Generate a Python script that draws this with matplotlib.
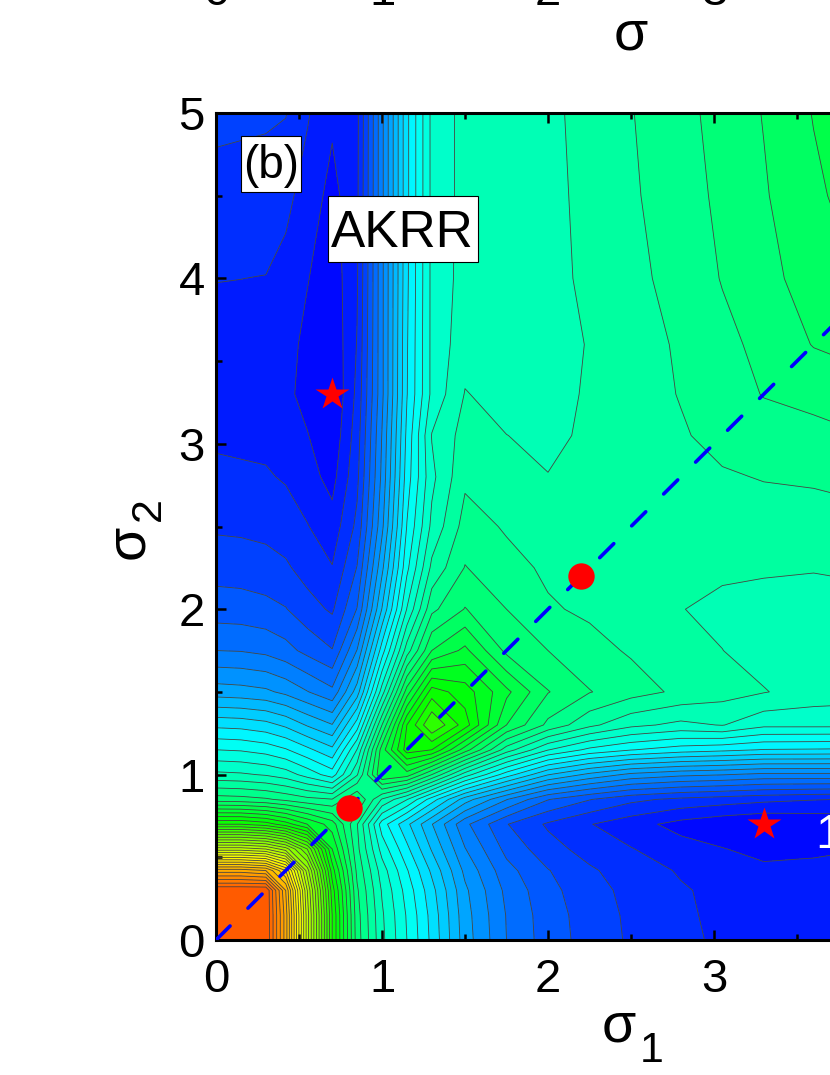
import numpy as np
import matplotlib
matplotlib.use('Agg')
import matplotlib.pyplot as plt
from matplotlib.colors import LinearSegmentedColormap, Normalize
from matplotlib.patches import Rectangle
from matplotlib.ticker import MultipleLocator

plt.rcParams['font.family'] = ['Liberation Sans', 'DejaVu Sans']

# grid of kernel widths (same for sigma1 and sigma2)
sig = [0, 0.15, 0.3, 0.42, 0.55, 0.7, 0.85, 1.0, 1.15, 1.3, 1.5, 1.75,
       2.0, 2.25, 2.5, 2.8, 3.05, 3.3, 3.6, 4.0, 4.5, 5.0]

# values: row k is sigma2 = sig[k], entries for sigma1 = sig[0..k]
# (map is symmetric under sigma1 <-> sigma2)
err_rows = [
    [1.0],
    [1.0, 1.0],
    [1.0, 1.0, 1.0],
    [0.89, 0.89, 0.88, 0.82],
    [0.71, 0.71, 0.70, 0.67, 0.60],
    [0.52, 0.52, 0.51, 0.49, 0.46, 0.43],
    [0.39, 0.388, 0.383, 0.375, 0.366, 0.361, 0.401],
    [0.325, 0.323, 0.318, 0.31, 0.292, 0.27, 0.338, 0.44],
    [0.28, 0.278, 0.272, 0.262, 0.245, 0.225, 0.301, 0.43, 0.51],
    [0.235, 0.233, 0.227, 0.216, 0.198, 0.181, 0.25, 0.38, 0.50, 0.56],
    [0.17, 0.168, 0.164, 0.155, 0.141, 0.125, 0.19, 0.31, 0.43, 0.51, 0.49],
    [0.12, 0.119, 0.115, 0.107, 0.094, 0.081, 0.141, 0.25, 0.35, 0.42, 0.445, 0.395],
    [0.09, 0.089, 0.086, 0.081, 0.068, 0.057, 0.101, 0.201, 0.301, 0.375, 0.401, 0.38, 0.362],
    [0.072, 0.071, 0.068, 0.063, 0.052, 0.041, 0.081, 0.175, 0.275, 0.345, 0.381, 0.366, 0.357, 0.352],
    [0.057, 0.056, 0.054, 0.05, 0.041, 0.028, 0.065, 0.155, 0.261, 0.325, 0.368, 0.358, 0.352, 0.35, 0.35],
    [0.044, 0.043, 0.042, 0.038, 0.028, 0.013, 0.055, 0.145, 0.25, 0.315, 0.356, 0.346, 0.3405, 0.345, 0.35, 0.356],
    [0.037, 0.036, 0.035, 0.031, 0.021, 0.005, 0.05, 0.141, 0.245, 0.321, 0.348, 0.3402, 0.336, 0.343, 0.35, 0.358, 0.366],
    [0.033, 0.033, 0.031, 0.025, 0.013, 0.0, 0.045, 0.135, 0.239, 0.305, 0.341, 0.333, 0.334, 0.342, 0.351, 0.361, 0.37, 0.381],
    [0.033, 0.033, 0.032, 0.027, 0.015, 0.004, 0.041, 0.135, 0.238, 0.305, 0.332, 0.331, 0.333, 0.341, 0.35, 0.363, 0.375, 0.385, 0.401],
    [0.0405, 0.0401, 0.0395, 0.034, 0.021, 0.008, 0.038, 0.135, 0.236, 0.305, 0.328, 0.331, 0.334, 0.344, 0.354, 0.368, 0.381, 0.393, 0.41, 0.425],
    [0.053, 0.052, 0.051, 0.045, 0.032, 0.013, 0.036, 0.135, 0.235, 0.305, 0.327, 0.331, 0.335, 0.345, 0.357, 0.372, 0.384, 0.398, 0.416, 0.435, 0.45],
    [0.065, 0.064, 0.063, 0.061, 0.042, 0.024, 0.035, 0.135, 0.235, 0.305, 0.327, 0.331, 0.336, 0.346, 0.359, 0.374, 0.387, 0.401, 0.421, 0.441, 0.459, 0.475],
]

star_x = [0.7, 3.3]
star_y = [3.3, 0.7]
dot_x = [0.8, 2.2]
dot_y = [0.8, 2.2]
diag = [0, 5]
ticks = [0, 1, 2, 3, 4, 5]
top_ticks = ['0', '1', '2', '3']

n = len(sig)
Z = np.zeros((n, n))
for k, row in enumerate(err_rows):
    for i, v in enumerate(row):
        Z[k, i] = v
        Z[i, k] = v

cmap = LinearSegmentedColormap.from_list(
    'rainbow_o', [(0.0, '#0000ff'), (0.26, '#00ffff'), (0.5, '#00ff00'),
                  (0.78, '#ffff00'), (1.0, '#ff5500')])
levels = np.linspace(0, 1, 51)

W, H = 830, 1075
fig = plt.figure(figsize=(W / 100, H / 100), dpi=100)
ax = fig.add_axes([216 / W, 135 / H, 830 / W, 827 / H])

ax.contourf(sig, sig, Z, levels=levels, cmap=cmap, norm=Normalize(0, 1))
ax.contour(sig, sig, Z, levels=levels[1:-1], colors='#454545', linewidths=0.6)

ax.plot(diag, diag, color='#0000ff', lw=2.6, dashes=(5.5, 7.0),
        dash_capstyle='round', zorder=3)
ax.plot(dot_x, dot_y, 'o', color='red', ms=19, mec='none', zorder=4)
ax.plot(star_x, star_y, '*', color='red', ms=25, mec='none', zorder=4)

ax.set_xlim(0, 5)
ax.set_ylim(0, 5)
ax.set_xticks(ticks)
ax.set_yticks(ticks)
ax.xaxis.set_minor_locator(MultipleLocator(0.5))
ax.yaxis.set_minor_locator(MultipleLocator(0.5))
ax.tick_params(which='both', direction='in', top=True, right=True, width=1.8)
ax.tick_params(which='major', length=7.5, labelsize=34)
ax.tick_params(which='minor', length=4)
ax.tick_params(axis='x', pad=13)
ax.tick_params(axis='y', pad=8)
for sp in ax.spines.values():
    sp.set_linewidth(2.2)

# panel tag and method name boxes
ax.add_patch(Rectangle((0.149, 4.524), 0.361, 0.337, fc='white', ec='black',
                       lw=0.8, zorder=5))
ax.text(0.33, 4.607, '(b)', fontsize=33, ha='center', va='baseline', zorder=6)
ax.add_patch(Rectangle((0.675, 4.099), 0.903, 0.399, fc='white', ec='black',
                       lw=0.8, zorder=5))
ax.text(1.12, 4.192, 'AKRR', fontsize=37, ha='center', va='baseline', zorder=6)

# axis labels with large subscripts
fig.text(602 / W, 1 - 1041 / H, 'σ', fontsize=40, ha='left', va='baseline')
fig.text(640 / W, 1 - 1062 / H, '1', fontsize=31, ha='left', va='baseline')
fig.text(143 / W, 1 - 559 / H, 'σ', fontsize=40, ha='left', va='baseline',
         rotation=90, rotation_mode='anchor')
fig.text(160 / W, 1 - 521 / H, '2', fontsize=31, ha='left', va='baseline',
         rotation=90, rotation_mode='anchor')

# white label cut by the right edge
fig.text(815 / W, 1 - 848 / H, '1', fontsize=35, color='white',
         ha='left', va='baseline')

# bottom of the panel above (cut off by the crop)
for i, lab in enumerate(top_ticks):
    fig.text((216 + 166 * ticks[i]) / W, 1 - 5 / H, lab, fontsize=34,
             ha='center', va='baseline')
fig.text(631 / W, 1 - 35 / H, 'σ', fontsize=40, ha='center', va='center')

fig.savefig('out.png', dpi=100)
